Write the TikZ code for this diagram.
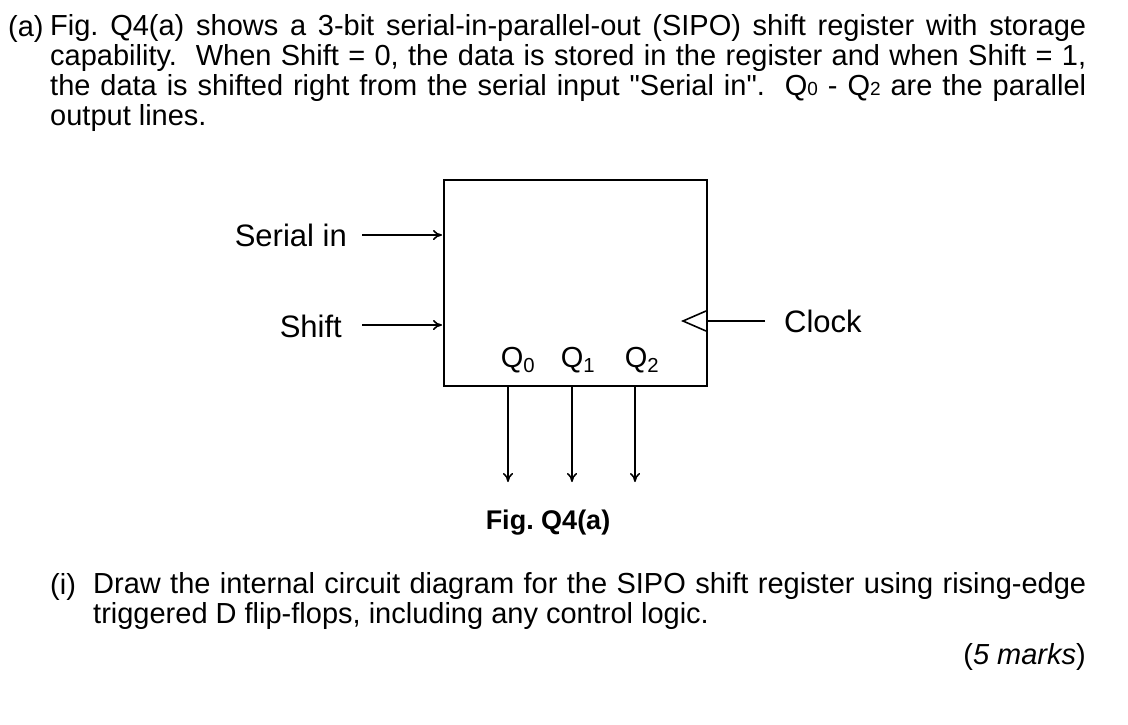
\documentclass[tikz,border=0pt]{standalone}
\usepackage{fontspec}
\setmainfont{Liberation Sans}[Ligatures=TeXOff]
\usetikzlibrary{arrows.meta}
\frenchspacing
\begin{document}
\begin{tikzpicture}[x=1pt,y=-1pt,
  txt/.style={inner sep=0pt,font=\fontsize{29}{30}\selectfont},
  wire/.style={line width=1.6pt,-{To[length=9pt,width=10pt]}},
  lbl/.style={txt,anchor=base}]
\useasboundingbox (0,0) rectangle (1128,724);
\node[txt,anchor=base west] (a) at (8,36) {(a)};
\node[txt,anchor=north west,text width=1036pt,align=justify] (p) at (50,14)
 {Fig. Q4(a) shows a 3-bit serial-in-parallel-out (SIPO) shift register with storage\linebreak capability.\ \ When Shift = 0, the data is stored in the register and when Shift = 1,\linebreak the data is shifted right from the serial input "Serial in".\ \ Q{\fontsize{19}{20}\selectfont 0} - Q{\fontsize{19}{20}\selectfont 2} are the parallel\linebreak output lines.};
\node[draw,line width=1.6pt,minimum width=263pt,minimum height=206pt,inner sep=0pt,anchor=north west] (box) at (443,179) {};
\node[txt,anchor=east,font=\fontsize{31}{30}\selectfont] (si) at (347,235) {Serial in};
\node[txt,anchor=east,font=\fontsize{31}{30}\selectfont] (sh) at (342,326) {Shift};
\coordinate (sie) at (442,235);
\coordinate (she) at (442,325);
\draw[wire] (362,235) -- (sie);
\draw[wire] (362,325) -- (she);
\draw[line width=1.6pt] (706,311) -- (683,321) -- (706,331);
\node[txt,anchor=west,font=\fontsize{31}{30}\selectfont] (clk) at (784,321) {Clock};
\coordinate (ck) at (706,321);
\draw[line width=1.6pt] (765,321) -- (ck);
\node[lbl] (q0) at (518,367) {Q\textsubscript{0}};
\node[lbl] (q1) at (578,367) {Q\textsubscript{1}};
\node[lbl] (q2) at (642,367) {Q\textsubscript{2}};
\foreach \x/\n in {508/o0,572/o1,635/o2}{
  \coordinate (\n) at (\x,482);
  \draw[wire] (\x,386) -- (\n);}
\node[txt,anchor=base,font=\bfseries\fontsize{27}{30}\selectfont] (fig) at (548,529) {Fig. Q4(a)};
\node[txt,anchor=base west] (i) at (50,594) {(i)};
\node[txt,anchor=north west,text width=993pt,align=justify] (ip) at (93,572)
 {Draw the internal circuit diagram for the SIPO shift register using rising-edge\linebreak triggered D flip-flops, including any control logic.};
\node[txt,anchor=base east] (m) at (1086,664) {(\textit{5 marks})};
\end{tikzpicture}
\end{document}
